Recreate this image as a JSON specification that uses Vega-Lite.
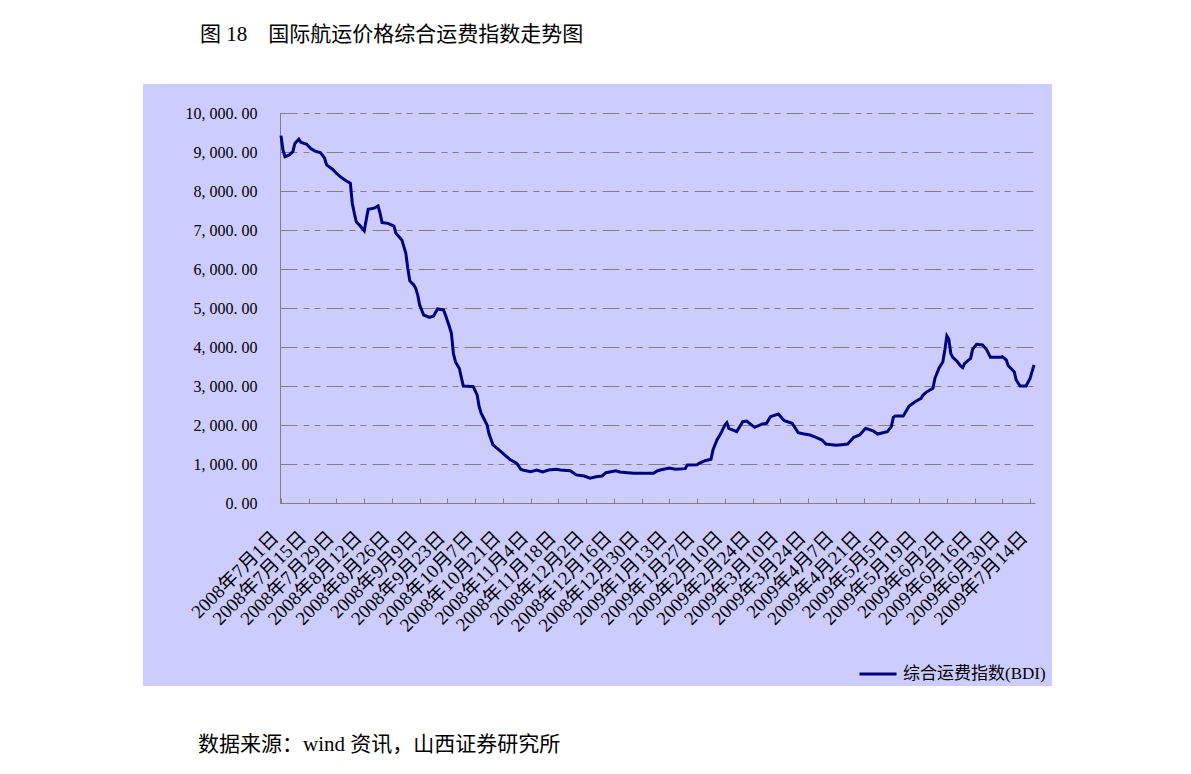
{
  "$schema": "https://vega.github.io/schema/vega-lite/v6.json",
  "background": "white",
  "autosize": {"type": "pad"},
  "padding": {"left": 143, "top": 24, "right": 139, "bottom": 10},
  "title": {
    "text": "图 18　国际航运价格综合运费指数走势图",
    "anchor": "start",
    "dx": 57,
    "offset": 39,
    "fontSize": 21
  },
  "vconcat": [
    {
      "width": 909,
      "height": 602,
      "view": {"fill": "#CCCCFF", "stroke": null},
      "title": {
        "text": "数据来源：wind 资讯，山西证券研究所",
        "orient": "bottom",
        "anchor": "start",
        "dx": 55,
        "offset": 48,
        "fontSize": 21
      },
      "data": {
        "values": [
          {"date": "2008-07-01", "bdi": 9420},
          {"date": "2008-07-02", "bdi": 9050},
          {"date": "2008-07-03", "bdi": 8880},
          {"date": "2008-07-05", "bdi": 8920},
          {"date": "2008-07-07", "bdi": 9010},
          {"date": "2008-07-08", "bdi": 9220},
          {"date": "2008-07-10", "bdi": 9330},
          {"date": "2008-07-11", "bdi": 9250},
          {"date": "2008-07-14", "bdi": 9200},
          {"date": "2008-07-16", "bdi": 9090},
          {"date": "2008-07-18", "bdi": 9030},
          {"date": "2008-07-21", "bdi": 8980},
          {"date": "2008-07-23", "bdi": 8840},
          {"date": "2008-07-24", "bdi": 8670},
          {"date": "2008-07-27", "bdi": 8560},
          {"date": "2008-07-29", "bdi": 8450},
          {"date": "2008-08-01", "bdi": 8325},
          {"date": "2008-08-03", "bdi": 8255},
          {"date": "2008-08-05", "bdi": 8200},
          {"date": "2008-08-06", "bdi": 7680},
          {"date": "2008-08-07", "bdi": 7430},
          {"date": "2008-08-08", "bdi": 7210},
          {"date": "2008-08-10", "bdi": 7100},
          {"date": "2008-08-12", "bdi": 6980},
          {"date": "2008-08-13", "bdi": 7260},
          {"date": "2008-08-14", "bdi": 7530},
          {"date": "2008-08-17", "bdi": 7560},
          {"date": "2008-08-19", "bdi": 7615},
          {"date": "2008-08-20", "bdi": 7430},
          {"date": "2008-08-21", "bdi": 7190},
          {"date": "2008-08-24", "bdi": 7170},
          {"date": "2008-08-27", "bdi": 7100},
          {"date": "2008-08-28", "bdi": 6915},
          {"date": "2008-08-31", "bdi": 6745},
          {"date": "2008-09-01", "bdi": 6575},
          {"date": "2008-09-02", "bdi": 6400},
          {"date": "2008-09-03", "bdi": 6020},
          {"date": "2008-09-04", "bdi": 5700},
          {"date": "2008-09-06", "bdi": 5590},
          {"date": "2008-09-07", "bdi": 5505},
          {"date": "2008-09-08", "bdi": 5330},
          {"date": "2008-09-09", "bdi": 5077},
          {"date": "2008-09-11", "bdi": 4820},
          {"date": "2008-09-14", "bdi": 4760},
          {"date": "2008-09-16", "bdi": 4795},
          {"date": "2008-09-18", "bdi": 4975},
          {"date": "2008-09-21", "bdi": 4950},
          {"date": "2008-09-22", "bdi": 4820},
          {"date": "2008-09-24", "bdi": 4520},
          {"date": "2008-09-25", "bdi": 4350},
          {"date": "2008-09-26", "bdi": 3840},
          {"date": "2008-09-27", "bdi": 3624},
          {"date": "2008-09-29", "bdi": 3450},
          {"date": "2008-10-01", "bdi": 3000},
          {"date": "2008-10-06", "bdi": 2985},
          {"date": "2008-10-08", "bdi": 2770},
          {"date": "2008-10-09", "bdi": 2470},
          {"date": "2008-10-10", "bdi": 2300},
          {"date": "2008-10-13", "bdi": 2000},
          {"date": "2008-10-14", "bdi": 1770},
          {"date": "2008-10-16", "bdi": 1490},
          {"date": "2008-10-19", "bdi": 1360},
          {"date": "2008-10-23", "bdi": 1185},
          {"date": "2008-10-25", "bdi": 1100},
          {"date": "2008-10-28", "bdi": 1015},
          {"date": "2008-10-30", "bdi": 865},
          {"date": "2008-10-31", "bdi": 846},
          {"date": "2008-11-04", "bdi": 805},
          {"date": "2008-11-07", "bdi": 845},
          {"date": "2008-11-10", "bdi": 795},
          {"date": "2008-11-13", "bdi": 845},
          {"date": "2008-11-17", "bdi": 865},
          {"date": "2008-11-19", "bdi": 846},
          {"date": "2008-11-24", "bdi": 828},
          {"date": "2008-11-27", "bdi": 720},
          {"date": "2008-12-01", "bdi": 692},
          {"date": "2008-12-04", "bdi": 635},
          {"date": "2008-12-07", "bdi": 675},
          {"date": "2008-12-10", "bdi": 692},
          {"date": "2008-12-12", "bdi": 777},
          {"date": "2008-12-17", "bdi": 828},
          {"date": "2008-12-19", "bdi": 795},
          {"date": "2008-12-23", "bdi": 777},
          {"date": "2008-12-26", "bdi": 761},
          {"date": "2009-01-05", "bdi": 761},
          {"date": "2009-01-07", "bdi": 828},
          {"date": "2009-01-10", "bdi": 864},
          {"date": "2009-01-13", "bdi": 897},
          {"date": "2009-01-16", "bdi": 864},
          {"date": "2009-01-21", "bdi": 880},
          {"date": "2009-01-22", "bdi": 975},
          {"date": "2009-01-27", "bdi": 983},
          {"date": "2009-01-28", "bdi": 1017},
          {"date": "2009-01-31", "bdi": 1085},
          {"date": "2009-02-03", "bdi": 1120},
          {"date": "2009-02-04", "bdi": 1360},
          {"date": "2009-02-06", "bdi": 1615},
          {"date": "2009-02-08", "bdi": 1786},
          {"date": "2009-02-10", "bdi": 2000},
          {"date": "2009-02-11", "bdi": 2060},
          {"date": "2009-02-12", "bdi": 1915},
          {"date": "2009-02-16", "bdi": 1830},
          {"date": "2009-02-19", "bdi": 2085},
          {"date": "2009-02-21", "bdi": 2103},
          {"date": "2009-02-25", "bdi": 1940},
          {"date": "2009-03-01", "bdi": 2026},
          {"date": "2009-03-03", "bdi": 2043},
          {"date": "2009-03-05", "bdi": 2214},
          {"date": "2009-03-09", "bdi": 2282},
          {"date": "2009-03-12", "bdi": 2111},
          {"date": "2009-03-16", "bdi": 2043},
          {"date": "2009-03-19", "bdi": 1803},
          {"date": "2009-03-22", "bdi": 1769},
          {"date": "2009-03-25", "bdi": 1744},
          {"date": "2009-03-28", "bdi": 1684},
          {"date": "2009-03-31", "bdi": 1615},
          {"date": "2009-04-02", "bdi": 1513},
          {"date": "2009-04-07", "bdi": 1479},
          {"date": "2009-04-10", "bdi": 1496},
          {"date": "2009-04-13", "bdi": 1513},
          {"date": "2009-04-16", "bdi": 1684},
          {"date": "2009-04-19", "bdi": 1744},
          {"date": "2009-04-22", "bdi": 1915},
          {"date": "2009-04-26", "bdi": 1846},
          {"date": "2009-04-28", "bdi": 1769},
          {"date": "2009-05-03", "bdi": 1829},
          {"date": "2009-05-05", "bdi": 1957},
          {"date": "2009-05-06", "bdi": 2197},
          {"date": "2009-05-07", "bdi": 2231},
          {"date": "2009-05-11", "bdi": 2231},
          {"date": "2009-05-14", "bdi": 2487},
          {"date": "2009-05-17", "bdi": 2598},
          {"date": "2009-05-20", "bdi": 2684},
          {"date": "2009-05-21", "bdi": 2769},
          {"date": "2009-05-23", "bdi": 2855},
          {"date": "2009-05-26", "bdi": 2940},
          {"date": "2009-05-27", "bdi": 3197},
          {"date": "2009-05-29", "bdi": 3453},
          {"date": "2009-05-31", "bdi": 3624},
          {"date": "2009-06-01", "bdi": 3923},
          {"date": "2009-06-02", "bdi": 4282},
          {"date": "2009-06-03", "bdi": 4197},
          {"date": "2009-06-04", "bdi": 3838},
          {"date": "2009-06-05", "bdi": 3735},
          {"date": "2009-06-07", "bdi": 3641},
          {"date": "2009-06-09", "bdi": 3513},
          {"date": "2009-06-10", "bdi": 3470},
          {"date": "2009-06-11", "bdi": 3581},
          {"date": "2009-06-14", "bdi": 3709},
          {"date": "2009-06-15", "bdi": 3940},
          {"date": "2009-06-17", "bdi": 4068},
          {"date": "2009-06-20", "bdi": 4051},
          {"date": "2009-06-22", "bdi": 3940},
          {"date": "2009-06-24", "bdi": 3735},
          {"date": "2009-06-29", "bdi": 3735},
          {"date": "2009-06-30", "bdi": 3752},
          {"date": "2009-07-02", "bdi": 3667},
          {"date": "2009-07-03", "bdi": 3521},
          {"date": "2009-07-06", "bdi": 3367},
          {"date": "2009-07-07", "bdi": 3154},
          {"date": "2009-07-09", "bdi": 3000},
          {"date": "2009-07-12", "bdi": 3000},
          {"date": "2009-07-14", "bdi": 3197},
          {"date": "2009-07-15", "bdi": 3367},
          {"date": "2009-07-16", "bdi": 3538}
        ]
      },
      "mark": {"type": "line", "strokeWidth": 3, "interpolate": "linear"},
      "encoding": {
        "x": {
          "field": "date",
          "type": "temporal",
          "scale": {
            "type": "utc",
            "domain": [
              {"year": 2008, "month": 6, "date": 30, "hours": 12, "utc": true},
              {"year": 2009, "month": 7, "date": 16, "hours": 12, "utc": true}
            ],
            "range": [137, 892],
            "nice": false
          },
          "axis": {
            "values": [
              {"year": 2008, "month": 7, "date": 1, "utc": true},
              {"year": 2008, "month": 7, "date": 15, "utc": true},
              {"year": 2008, "month": 7, "date": 29, "utc": true},
              {"year": 2008, "month": 8, "date": 12, "utc": true},
              {"year": 2008, "month": 8, "date": 26, "utc": true},
              {"year": 2008, "month": 9, "date": 9, "utc": true},
              {"year": 2008, "month": 9, "date": 23, "utc": true},
              {"year": 2008, "month": 10, "date": 7, "utc": true},
              {"year": 2008, "month": 10, "date": 21, "utc": true},
              {"year": 2008, "month": 11, "date": 4, "utc": true},
              {"year": 2008, "month": 11, "date": 18, "utc": true},
              {"year": 2008, "month": 12, "date": 2, "utc": true},
              {"year": 2008, "month": 12, "date": 16, "utc": true},
              {"year": 2008, "month": 12, "date": 30, "utc": true},
              {"year": 2009, "month": 1, "date": 13, "utc": true},
              {"year": 2009, "month": 1, "date": 27, "utc": true},
              {"year": 2009, "month": 2, "date": 10, "utc": true},
              {"year": 2009, "month": 2, "date": 24, "utc": true},
              {"year": 2009, "month": 3, "date": 10, "utc": true},
              {"year": 2009, "month": 3, "date": 24, "utc": true},
              {"year": 2009, "month": 4, "date": 7, "utc": true},
              {"year": 2009, "month": 4, "date": 21, "utc": true},
              {"year": 2009, "month": 5, "date": 5, "utc": true},
              {"year": 2009, "month": 5, "date": 19, "utc": true},
              {"year": 2009, "month": 6, "date": 2, "utc": true},
              {"year": 2009, "month": 6, "date": 16, "utc": true},
              {"year": 2009, "month": 6, "date": 30, "utc": true},
              {"year": 2009, "month": 7, "date": 14, "utc": true}
            ],
            "labelExpr": "utcFormat(datum.value, '%Y年%-m月%-d日')",
            "labelAngle": -45,
            "labelAlign": "right",
            "labelBaseline": "middle",
            "labelFontSize": 19,
            "labelPadding": 36,
            "labelOffset": -6,
            "labelOverlap": false,
            "labelBound": false,
            "labelFlush": false,
            "tickSize": -5,
            "grid": false,
            "offset": -183,
            "title": null
          }
        },
        "y": {
          "field": "bdi",
          "type": "quantitative",
          "scale": {"domain": [0, 10000], "range": [419, 29], "nice": false, "zero": true},
          "axis": {
            "values": [0, 1000, 2000, 3000, 4000, 5000, 6000, 7000, 8000, 9000, 10000],
            "labelExpr": "replace(replace(format(datum.value, ',.2f'), ',', ', '), '.', '. ')",
            "labelFontSize": 16,
            "labelPadding": 28,
            "tickSize": -5,
            "grid": true,
            "gridColor": "#808080",
            "gridWidth": 1,
            "gridDash": [17, 6, 6, 5, 6, 6],
            "offset": -137,
            "title": null
          }
        },
        "color": {
          "datum": "综合运费指数(BDI)",
          "type": "nominal",
          "scale": {"range": ["#000080"]},
          "legend": {
            "orient": "none",
            "legendX": 715,
            "legendY": 570,
            "title": null,
            "padding": 0,
            "symbolType": "stroke",
            "symbolSize": 1369,
            "symbolStrokeWidth": 3,
            "labelFontSize": 17,
            "labelOffset": 5,
            "labelColor": "#000000"
          }
        }
      }
    }
  ],
  "config": {
    "font": "Liberation Serif, Noto Sans CJK SC",
    "title": {"font": "Liberation Serif, Noto Sans CJK SC", "fontWeight": "normal", "color": "#000000"},
    "axis": {
      "labelFont": "Liberation Serif, Noto Sans CJK SC",
      "labelColor": "#000000",
      "domainColor": "#808080",
      "domainWidth": 1,
      "tickColor": "#808080",
      "tickWidth": 1
    },
    "legend": {"labelFont": "Liberation Serif, Noto Sans CJK SC", "labelLimit": 400}
  }
}
